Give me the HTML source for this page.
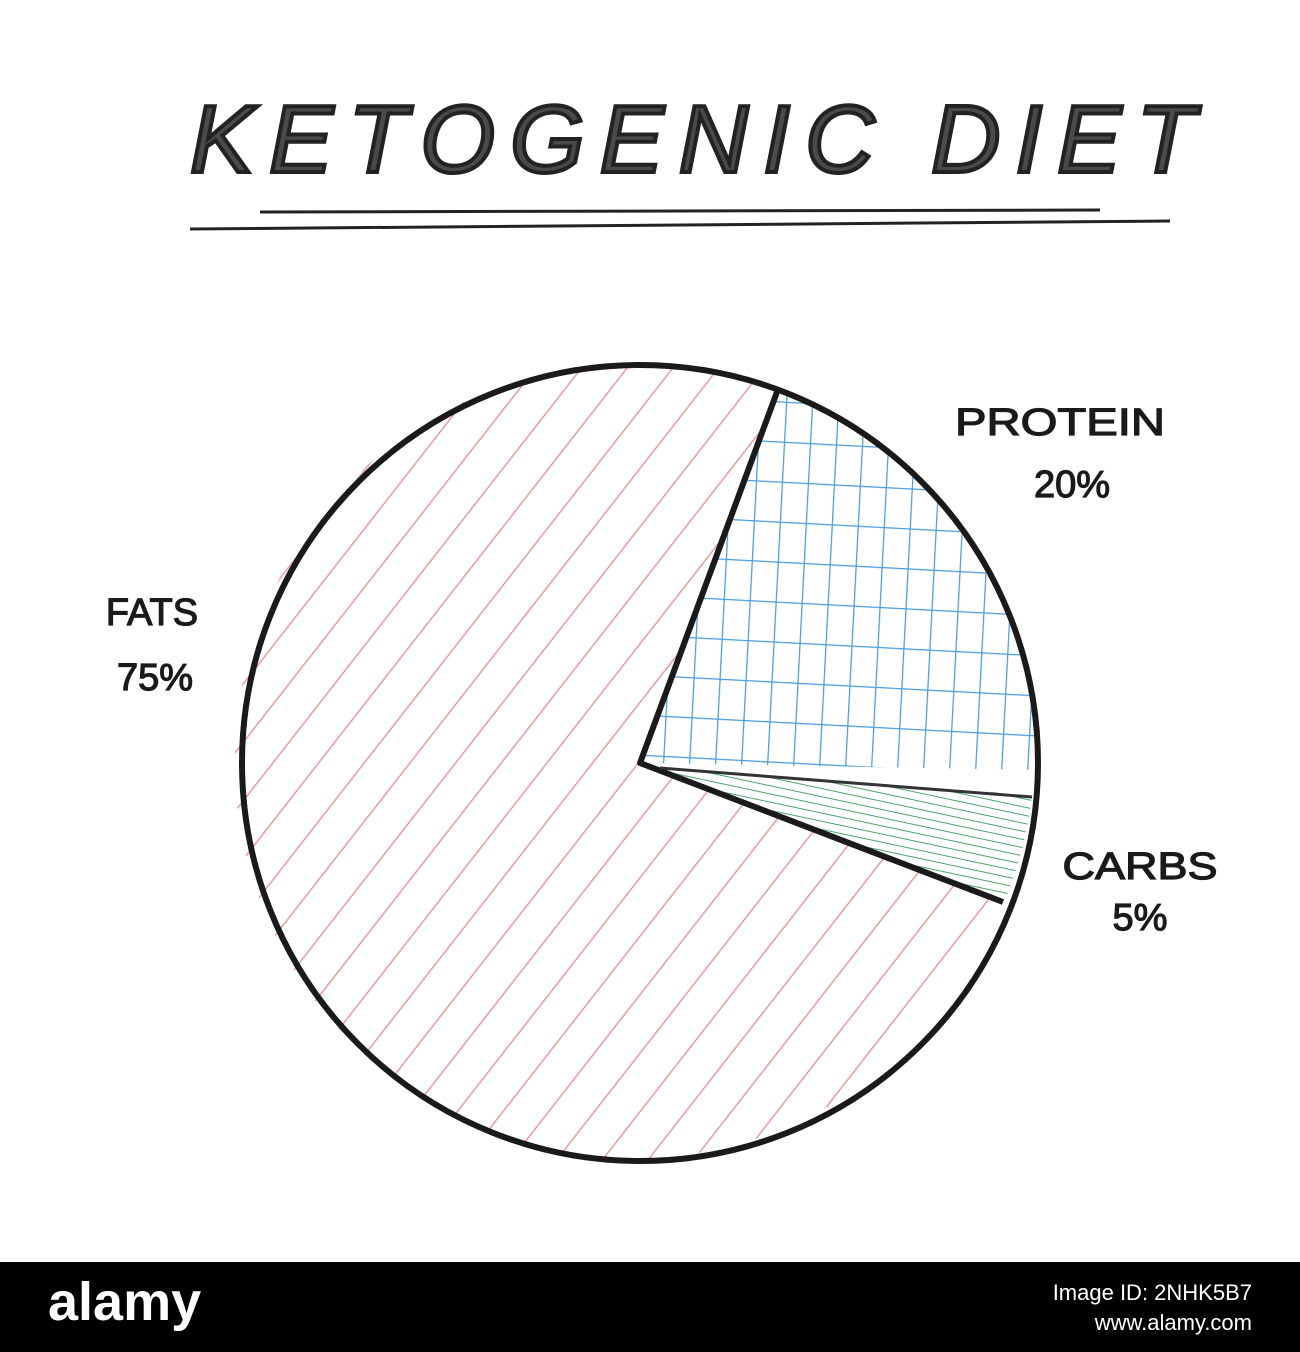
<!DOCTYPE html>
<html><head><style>
html,body{margin:0;padding:0;background:#fff;}
svg{display:block}
</style></head><body>
<svg width="1300" height="1352" viewBox="0 0 1300 1352" xmlns="http://www.w3.org/2000/svg">
<defs>
<pattern id="pink" patternUnits="userSpaceOnUse" width="36" height="40" patternTransform="rotate(38)">
<line x1="0" y1="0" x2="0" y2="40" stroke="#ec9a9c" stroke-width="3"/>
</pattern>
<pattern id="grid" patternUnits="userSpaceOnUse" width="26" height="40" patternTransform="rotate(3)">
<line x1="0" y1="0" x2="0" y2="40" stroke="#4a9be0" stroke-width="2.5"/>
<line x1="0" y1="0" x2="26" y2="0" stroke="#4a9be0" stroke-width="2.5"/>
</pattern>
<pattern id="green" patternUnits="userSpaceOnUse" width="8" height="8" patternTransform="rotate(12)">
<line x1="0" y1="0" x2="8" y2="0" stroke="#3a9a5a" stroke-width="1.8"/>
</pattern>
</defs>
<rect width="1300" height="1352" fill="#fff"/>
<text x="190" y="172" font-family="Liberation Sans, sans-serif" font-style="italic" font-size="96" textLength="1005" lengthAdjust="spacing" fill="#4a4a4a" stroke="#222" stroke-width="4">KETOGENIC DIET</text>
<line x1="260" y1="212" x2="1100" y2="210" stroke="#222" stroke-width="3"/>
<line x1="190" y1="229" x2="1170" y2="221" stroke="#222" stroke-width="3"/>

<path d="M640,763 L777,392 A397,397 0 1,0 1003,902 Z" fill="url(#pink)"/>
<path d="M640,763 L777,392 A397,397 0 0,1 1035,770 Z" fill="url(#grid)"/>
<path d="M655,768 L1032,795 A397,397 0 0,1 1005,900 Z" fill="url(#green)"/>
<circle cx="640" cy="763" r="398" fill="none" stroke="#1a1a1a" stroke-width="6"/>
<path d="M777,392 L640,763 L1003,902" fill="none" stroke="#1a1a1a" stroke-width="6" stroke-linejoin="round"/>
<path d="M660,768 L1032,797" fill="none" stroke="#333" stroke-width="3"/>

<g font-family="Liberation Sans, sans-serif" font-size="38" fill="#1a1a1a" stroke="#1a1a1a" stroke-width="1.2" text-anchor="middle">
<text x="1060" y="435" textLength="210" lengthAdjust="spacingAndGlyphs">PROTEIN</text>
<text x="1072" y="497">20%</text>
<text x="152" y="625">FATS</text>
<text x="155" y="690">75%</text>
<text x="1140" y="879" textLength="155" lengthAdjust="spacingAndGlyphs">CARBS</text>
<text x="1140" y="930">5%</text>
</g>

<rect x="0" y="1262" width="1300" height="90" fill="#000"/>
<text x="48" y="1320" font-family="Liberation Sans, sans-serif" font-weight="bold" font-size="54" fill="#fff">alamy</text>
<text x="1252" y="1300" font-family="Liberation Sans, sans-serif" font-size="22" fill="#fff" text-anchor="end">Image ID: 2NHK5B7</text>
<text x="1252" y="1330" font-family="Liberation Sans, sans-serif" font-size="22" fill="#fff" text-anchor="end">www.alamy.com</text>
</svg>
</body></html>
